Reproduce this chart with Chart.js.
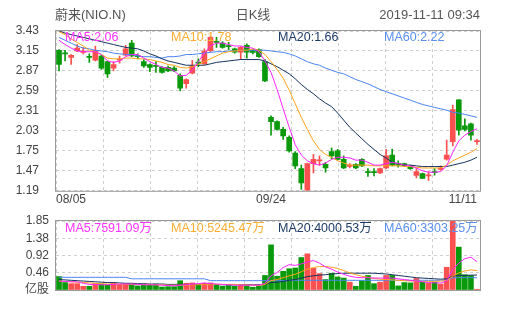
<!DOCTYPE html>
<html>
<head>
<meta charset="utf-8">
<script src="https://cdn.jsdelivr.net/npm/chart.js@4.4.1/dist/chart.umd.min.js"></script>
<style>
  body { margin: 0; background: #fff; }
  #wrap { position: relative; width: 505px; height: 310px; overflow: hidden;
          font-family: "Liberation Sans", Arial, "Noto Sans CJK SC", sans-serif; }
  canvas { position: absolute; left: 0; }
  .t { position: absolute; white-space: nowrap; line-height: 16px; }
  .hd { font-size: 13px; color: #555; top: 7px; }
  .lg { font-size: 12.5px; }
</style>
</head>
<body>
<div id="wrap">
  <canvas id="kline" width="505" height="215" style="top:0"></canvas>
  <canvas id="vol" width="505" height="105" style="top:205px"></canvas>

  <span class="t hd" style="left:55px">蔚来(NIO.N)</span>
  <span class="t hd" style="left:253px;transform:translateX(-50%)">日K线</span>
  <span class="t hd" style="right:25px">2019-11-11 09:34</span>

  <span class="t lg" style="left:65px;top:29px;color:#ff33ff">MA5:2.06</span>
  <span class="t lg" style="left:171px;top:29px;color:#f9ad33">MA10:1.78</span>
  <span class="t lg" style="left:278px;top:29px;color:#1d3b66">MA20:1.66</span>
  <span class="t lg" style="left:384px;top:29px;color:#5b8ff0">MA60:2.22</span>

  <span class="t lg" style="left:65px;top:220px;color:#ff33ff">MA5:7591.09万</span>
  <span class="t lg" style="left:171px;top:220px;color:#f9ad33">MA10:5245.47万</span>
  <span class="t lg" style="left:278px;top:220px;color:#1d3b66">MA20:4000.53万</span>
  <span class="t lg" style="left:384px;top:220px;color:#5b8ff0">MA60:3303.25万</span>
</div>

<script>
// ------------------------------------------------------
// Data (NIO daily K line)
// ------------------------------------------------------
const dates = [
  "08/05","08/06","08/07","08/08","08/09","08/12","08/13","08/14","08/15","08/16",
  "08/19","08/20","08/21","08/22","08/23","08/26","08/27","08/28","08/29","08/30",
  "09/03","09/04","09/05","09/06","09/09","09/10","09/11","09/12","09/13","09/16",
  "09/17","09/18","09/19","09/20","09/23","09/24","09/25","09/26","09/27","09/30",
  "10/01","10/02","10/03","10/04","10/07","10/08","10/09","10/10","10/11","10/14",
  "10/15","10/16","10/17","10/18","10/21","10/22","10/23","10/24","10/25","10/28",
  "10/29","10/30","10/31","11/01","11/04","11/05","11/06","11/07","11/08","11/11"
];

const opens = [
  3.16, 3.12, 3.06, 3.15, 3.13, 3.065, 3.02, 3.08, 3.00, 2.91,
  3.02, 3.09, 3.26, 3.08, 3.00, 2.96, 2.945, 2.92, 2.92, 2.91,
  2.81, 2.69, 2.84, 2.99, 2.97, 3.155, 3.28, 3.26, 3.22, 3.18,
  3.135, 3.23, 3.16, 3.17, 3.00, 2.22, 2.16, 2.05, 1.94, 1.72,
  1.50, 1.20, 1.57, 1.61, 1.56, 1.74, 1.75, 1.63, 1.53, 1.56,
  1.63, 1.45, 1.45, 1.44, 1.51, 1.69, 1.57, 1.57, 1.54, 1.405,
  1.43, 1.40, 1.455, 1.49, 1.635, 1.88, 2.465, 2.10, 2.13, 1.88
];
const highs = [
  3.17, 3.16, 3.10, 3.24, 3.20, 3.11, 3.22, 3.09, 3.01, 3.00,
  3.08, 3.23, 3.30, 3.11, 3.03, 2.97, 3.00, 2.93, 2.94, 2.93,
  2.83, 2.76, 3.02, 3.04, 3.18, 3.36, 3.34, 3.28, 3.27, 3.19,
  3.21, 3.25, 3.17, 3.18, 3.03, 2.24, 2.17, 2.08, 1.96, 1.74,
  1.55, 1.58, 1.70, 1.68, 1.59, 1.79, 1.77, 1.68, 1.57, 1.57,
  1.64, 1.50, 1.50, 1.51, 1.77, 1.775, 1.61, 1.58, 1.55, 1.50,
  1.44, 1.46, 1.50, 1.54, 1.90, 2.39, 2.47, 2.20, 2.14, 1.91
];
const lows = [
  2.87, 3.01, 2.96, 3.14, 3.11, 2.99, 3.01, 2.89, 2.78, 2.87,
  2.98, 3.08, 3.07, 3.04, 2.92, 2.86, 2.85, 2.84, 2.86, 2.86,
  2.59, 2.63, 2.83, 2.93, 2.96, 3.14, 3.20, 3.19, 3.17, 3.12,
  3.03, 3.05, 3.11, 3.06, 2.72, 1.97, 2.04, 1.91, 1.73, 1.50,
  1.21, 1.19, 1.44, 1.55, 1.45, 1.64, 1.62, 1.50, 1.51, 1.50,
  1.53, 1.39, 1.40, 1.43, 1.50, 1.54, 1.52, 1.53, 1.49, 1.37,
  1.36, 1.335, 1.41, 1.48, 1.62, 1.82, 1.97, 2.03, 1.90, 1.84
];
const closes = [
  2.96, 3.11, 3.09, 3.19, 3.15, 3.06, 3.16, 2.91, 2.83, 2.96,
  3.025, 3.18, 3.08, 3.07, 2.94, 2.92, 2.935, 2.85, 2.87, 2.87,
  2.63, 2.75, 2.94, 2.98, 3.15, 3.34, 3.27, 3.20, 3.21, 3.135,
  3.20, 3.135, 3.13, 3.07, 2.73, 2.16, 2.05, 1.96, 1.75, 1.54,
  1.30, 1.57, 1.63, 1.615, 1.51, 1.68, 1.63, 1.51, 1.55, 1.51,
  1.54, 1.445, 1.445, 1.50, 1.68, 1.55, 1.55, 1.54, 1.50, 1.46,
  1.365, 1.41, 1.445, 1.51, 1.69, 2.33, 2.04, 2.05, 1.97, 1.885
];

const ma5 = [
  3.30, 3.24, 3.19, 3.15, 3.14, 3.14, 3.14, 3.10, 3.01, 2.99,
  3.01, 3.07, 3.10, 3.10, 3.05, 3.00, 2.96, 2.92, 2.91, 2.87,
  2.80, 2.81, 2.88, 3.00, 3.12, 3.22, 3.26, 3.26, 3.24, 3.22,
  3.22, 3.20, 3.19, 3.14, 3.01, 2.85, 2.61, 2.34, 2.08, 1.835,
  1.69, 1.61, 1.57, 1.55, 1.58, 1.63, 1.66, 1.66, 1.65, 1.62,
  1.62, 1.59, 1.55, 1.55, 1.57, 1.59, 1.57, 1.55, 1.54, 1.51,
  1.47, 1.45, 1.45, 1.46, 1.54, 1.73, 1.89, 1.97, 2.02, 2.06
];
const ma10 = [
  3.42, 3.38, 3.32, 3.27, 3.22, 3.16, 3.14, 3.10, 3.05, 3.04,
  3.04, 3.05, 3.05, 3.04, 3.04, 3.03, 3.01, 2.99, 2.96, 2.95,
  2.92, 2.91, 2.93, 2.96, 3.00, 3.04, 3.08, 3.12, 3.14, 3.15,
  3.16, 3.16, 3.18, 3.16, 3.10, 3.00, 2.89, 2.77, 2.60, 2.41,
  2.22, 2.05, 1.89, 1.77, 1.70, 1.66, 1.61, 1.58, 1.55, 1.55,
  1.55, 1.55, 1.54, 1.54, 1.54, 1.54, 1.54, 1.53, 1.53, 1.52,
  1.51, 1.51, 1.51, 1.51, 1.55, 1.61, 1.65, 1.69, 1.73, 1.78
];
const ma20 = [
  3.43, 3.40, 3.38, 3.36, 3.34, 3.32, 3.30, 3.28, 3.26, 3.24,
  3.22, 3.20, 3.19, 3.18, 3.15, 3.11, 3.08, 3.04, 3.01, 2.99,
  2.97, 2.95, 2.95, 2.95, 2.95, 2.97, 2.99, 3.00, 3.01, 3.02,
  3.03, 3.03, 3.03, 3.03, 3.01, 2.97, 2.93, 2.88, 2.83, 2.76,
  2.68, 2.61, 2.55, 2.48, 2.42, 2.37, 2.28, 2.18, 2.08, 2.00,
  1.92, 1.84, 1.77, 1.70, 1.65, 1.59, 1.57, 1.55, 1.55, 1.54,
  1.53, 1.53, 1.53, 1.53, 1.53, 1.55, 1.57, 1.59, 1.62, 1.66
];
const ma60 = [
  3.34, 3.30, 3.26, 3.22, 3.19, 3.18, 3.16, 3.15, 3.14, 3.12,
  3.11, 3.10, 3.10, 3.08, 3.07, 3.07, 3.06, 3.05, 3.07, 3.07,
  3.08, 3.10, 3.10, 3.11, 3.12, 3.13, 3.14, 3.14, 3.15, 3.15,
  3.16, 3.16, 3.16, 3.16, 3.16, 3.15, 3.14, 3.13, 3.11, 3.08,
  3.04, 3.00, 2.97, 2.95, 2.91, 2.88, 2.85, 2.83, 2.79, 2.75,
  2.72, 2.69, 2.65, 2.61, 2.58, 2.55, 2.52, 2.49, 2.46, 2.43,
  2.40, 2.38, 2.36, 2.34, 2.32, 2.29, 2.28, 2.26, 2.24, 2.22
];

// volume in 亿股
const volumes = [
  0.36, 0.20, 0.17, 0.17, 0.10, 0.10, 0.17, 0.16, 0.14, 0.18,
  0.15, 0.16, 0.15, 0.11, 0.14, 0.14, 0.16, 0.08, 0.09, 0.09,
  0.25, 0.18, 0.19, 0.13, 0.18, 0.19, 0.13, 0.10, 0.12, 0.10,
  0.13, 0.12, 0.075, 0.11, 0.39, 1.21, 0.37, 0.50, 0.57, 0.59,
  0.87, 0.97, 0.58, 0.44, 0.28, 0.45, 0.35, 0.32, 0.21, 0.10,
  0.25, 0.39, 0.17, 0.21, 0.39, 0.39, 0.11, 0.20, 0.19, 0.31,
  0.21, 0.18, 0.21, 0.16, 0.61, 1.85, 1.15, 0.41, 0.39, 0.02
];
const volMa5 = [
  0.24, 0.23, 0.22, 0.22, 0.18, 0.15, 0.15, 0.14, 0.14, 0.15,
  0.16, 0.16, 0.16, 0.15, 0.14, 0.14, 0.14, 0.13, 0.12, 0.11,
  0.13, 0.14, 0.16, 0.17, 0.19, 0.17, 0.16, 0.15, 0.14, 0.13,
  0.13, 0.13, 0.13, 0.13, 0.18, 0.38, 0.47, 0.60, 0.68, 0.66,
  0.70, 0.75, 0.79, 0.72, 0.62, 0.56, 0.48, 0.42, 0.37, 0.34,
  0.33, 0.33, 0.32, 0.32, 0.32, 0.32, 0.30, 0.28, 0.26, 0.24,
  0.22, 0.20, 0.19, 0.19, 0.24, 0.55, 0.72, 0.84, 0.88, 0.76
];
const volMa10 = [
  0.24, 0.23, 0.22, 0.21, 0.20, 0.19, 0.18, 0.17, 0.16, 0.16,
  0.15, 0.15, 0.15, 0.15, 0.15, 0.15, 0.14, 0.14, 0.13, 0.13,
  0.13, 0.13, 0.14, 0.14, 0.15, 0.15, 0.15, 0.15, 0.15, 0.15,
  0.14, 0.13, 0.13, 0.12, 0.15, 0.25, 0.28, 0.33, 0.38, 0.42,
  0.49, 0.56, 0.60, 0.63, 0.63, 0.61, 0.58, 0.52, 0.46, 0.41,
  0.37, 0.34, 0.31, 0.29, 0.28, 0.27, 0.26, 0.25, 0.24, 0.24,
  0.23, 0.23, 0.23, 0.24, 0.25, 0.37, 0.46, 0.51, 0.54, 0.52
];
const volMa20 = [
  0.28, 0.27, 0.26, 0.25, 0.24, 0.23, 0.22, 0.21, 0.20, 0.20,
  0.19, 0.18, 0.18, 0.17, 0.17, 0.16, 0.16, 0.16, 0.15, 0.15,
  0.15, 0.15, 0.15, 0.15, 0.15, 0.15, 0.15, 0.14, 0.14, 0.14,
  0.14, 0.14, 0.14, 0.14, 0.15, 0.20, 0.21, 0.23, 0.26, 0.28,
  0.32, 0.36, 0.38, 0.40, 0.41, 0.43, 0.44, 0.45, 0.45, 0.45,
  0.45, 0.45, 0.45, 0.44, 0.43, 0.41, 0.39, 0.37, 0.35, 0.33,
  0.32, 0.31, 0.30, 0.29, 0.30, 0.37, 0.39, 0.39, 0.40, 0.40
];
const volMa60 = [
  0.34, 0.34, 0.34, 0.34, 0.34, 0.34, 0.34, 0.34, 0.34, 0.34,
  0.34, 0.34, 0.30, 0.30, 0.30, 0.30, 0.30, 0.30, 0.30, 0.30,
  0.30, 0.30, 0.30, 0.30, 0.30, 0.25, 0.25, 0.25, 0.25, 0.25,
  0.25, 0.25, 0.25, 0.25, 0.25, 0.25, 0.25, 0.25, 0.26, 0.26,
  0.26, 0.26, 0.26, 0.26, 0.26, 0.26, 0.26, 0.26, 0.26, 0.26,
  0.26, 0.26, 0.26, 0.26, 0.26, 0.26, 0.26, 0.26, 0.26, 0.26,
  0.26, 0.26, 0.26, 0.26, 0.27, 0.33, 0.33, 0.33, 0.33, 0.33
];

const priceTicks = [1.19, 1.47, 1.75, 2.03, 2.31, 2.59, 2.87, 3.15, 3.43];
const volTicks = [0, 0.46, 0.92, 1.38, 1.85];
const dateTicks = ["08/05", "09/24", "11/11"];

// ------------------------------------------------------
// Styles
// ------------------------------------------------------
const RED = "#fa5050";
const GREEN = "#0a990a";
const C_MA5 = "#ff22ff";
const C_MA10 = "#ffa31a";
const C_MA20 = "#15325e";
const C_MA60 = "#4a84f2";
const FONT = "'Liberation Sans', Arial, 'Noto Sans CJK SC', sans-serif";
const GRID = "#cfcfcf";

const candleColors = opens.map((o, i) => closes[i] >= o ? RED : GREEN);

// grey frame round the plot area
const framePlugin = {
  id: "frame",
  beforeDatasetsDraw(chart) {
    const { ctx, chartArea: a } = chart;
    ctx.save();
    ctx.strokeStyle = "#999";
    ctx.lineWidth = 1;
    ctx.strokeRect(a.left - 0.5, a.top - 0.5, a.right - a.left + 1, a.bottom - a.top + 1);
    ctx.restore();
  }
};

// date labels under the K line plot
const dateLabelPlugin = {
  id: "dateLabels",
  afterDraw(chart) {
    const { ctx, chartArea: a, scales } = chart;
    ctx.save();
    ctx.font = "12px " + FONT;
    ctx.fillStyle = "#444";
    ctx.textBaseline = "middle";
    dateTicks.forEach(d => {
      const i = dates.indexOf(d);
      let px = scales.x.getPixelForValue(i);
      let align = "center";
      if (i === 0) { px = a.left; align = "left"; }
      else if (i === dates.length - 1) { align = "right"; }
      ctx.textAlign = align;
      ctx.fillText(d, px, a.bottom + 8.5);
    });
    ctx.restore();
  }
};

function lineSet(data, color) {
  return { type: "line", data, borderColor: color, borderWidth: 1, pointRadius: 0, fill: false, order: 0 };
}

function baseScales(min, max, ticks, padding, fmt) {
  return {
    x: { type: "category", display: false, offset: true },
    xg: {
      type: "linear", position: "bottom", min: 0, max: 8,
      ticks: { display: false, stepSize: 1 },
      grid: { color: GRID, drawTicks: false },
      border: { display: false, dash: [3, 3] },
      afterFit: s => { s.height = 0; }
    },
    y: {
      min, max,
      afterBuildTicks: s => { s.ticks = ticks.map(v => ({ value: v })); },
      afterFit: s => { s.width = 56; },
      ticks: { padding, autoSkip: false, color: "#444", font: { size: 12, family: FONT }, callback: fmt },
      grid: { color: GRID, drawTicks: false },
      border: { display: false, dash: [3, 3] }
    }
  };
}

const common = {
  responsive: false,
  animation: false,
  events: [],
  plugins: { legend: { display: false }, tooltip: { enabled: false } }
};

// ------------------------------------------------------
// K line chart
// ------------------------------------------------------
new Chart(document.getElementById("kline"), {
  type: "bar",
  data: {
    labels: dates,
    datasets: [
      lineSet(ma5, C_MA5),
      lineSet(ma10, C_MA10),
      lineSet(ma20, C_MA20),
      lineSet(ma60, C_MA60),
      {
        data: opens.map((o, i) => [o, closes[i]]),
        backgroundColor: candleColors,
        barThickness: 5, minBarLength: 1, grouped: false, order: 1
      },
      {
        data: lows.map((l, i) => [l, highs[i]]),
        backgroundColor: candleColors,
        barThickness: 1, grouped: false, order: 2
      }
    ]
  },
  options: {
    ...common,
    layout: { padding: { top: 31, right: 25, bottom: 15, left: 0 } },
    scales: baseScales(1.19, 3.43, priceTicks, 17, v => v.toFixed(2))
  },
  plugins: [framePlugin, dateLabelPlugin]
});

// ------------------------------------------------------
// Volume chart
// ------------------------------------------------------
new Chart(document.getElementById("vol"), {
  type: "bar",
  data: {
    labels: dates,
    datasets: [
      lineSet(volMa5, C_MA5),
      lineSet(volMa10, C_MA10),
      lineSet(volMa20, C_MA20),
      lineSet(volMa60, C_MA60),
      {
        data: volumes,
        backgroundColor: candleColors,
        barThickness: 5, grouped: false, order: 1
      }
    ]
  },
  options: {
    ...common,
    layout: { padding: { top: 16, right: 25, bottom: 20, left: 0 } },
    scales: baseScales(0, 1.85, volTicks, 7, v => v === 0 ? "亿股" : v.toFixed(2))
  },
  plugins: [framePlugin]
});
</script>
</body>
</html>
